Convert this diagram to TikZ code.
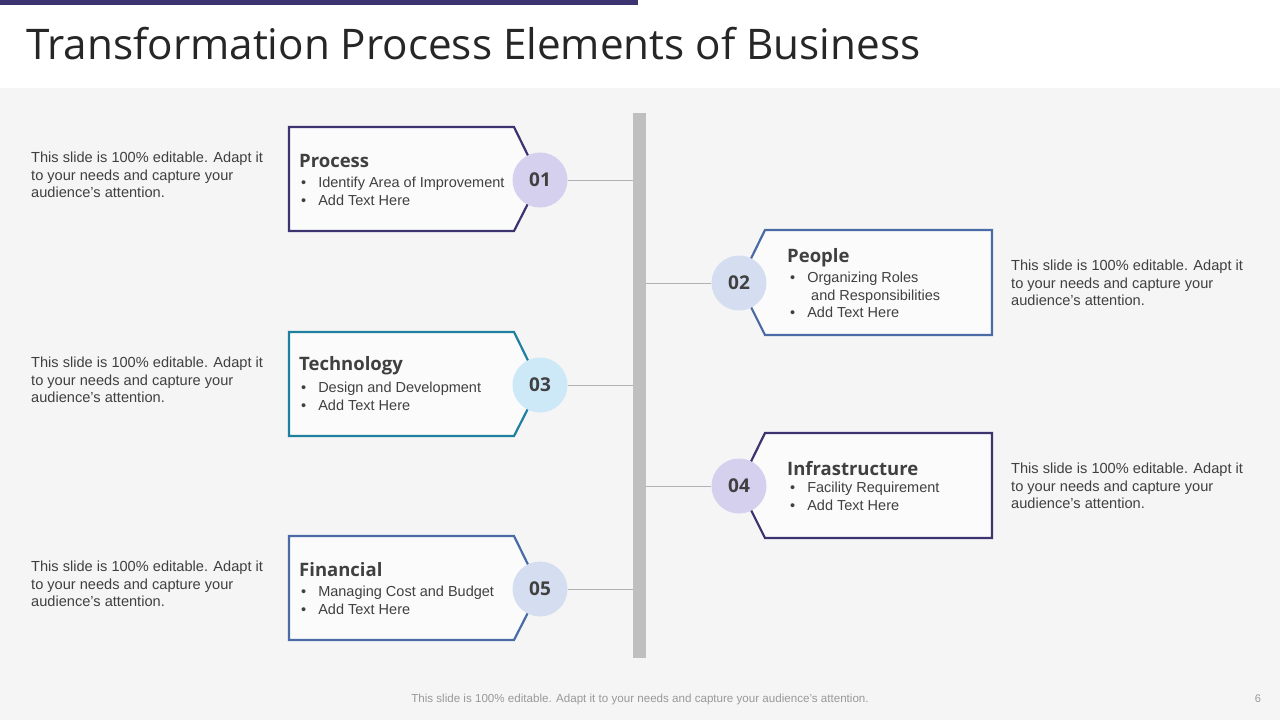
\documentclass[tikz,border=0pt]{standalone}
\usepackage{fontspec}
\setmainfont{Liberation Sans}
\newfontfamily\headfont{Open Sans}
\usetikzlibrary{positioning}
\definecolor{darkpurple}{HTML}{3B3470}
\definecolor{tealblue}{HTML}{1E7FA0}
\definecolor{steelblue}{HTML}{4A6BA5}
\definecolor{lilac}{HTML}{D4D0EE}
\definecolor{skyblue}{HTML}{CDE9F7}
\definecolor{paleblue}{HTML}{D5DEF0}
\definecolor{bodygray}{HTML}{404040}
\newcommand{\bul}{\textbullet\hspace{12pt}}
\newcommand{\cont}{\hspace{21pt}}
\tikzset{
  tagbox/.style={line width=2.2pt, fill=white, fill opacity=0.6, draw opacity=1},
  badge/.style={circle, minimum size=55pt, inner sep=0pt, font=\headfont\fontsize{19}{19}\selectfont\bfseries, text=bodygray},
  heading/.style={anchor=west, font=\headfont\fontsize{18.5}{18.5}\selectfont\bfseries, text=bodygray, inner sep=0pt},
  bullets/.style={anchor=north west, align=left, font=\fontsize{14.5}{17.5}\selectfont, text=bodygray, inner sep=0pt},
  note/.style={anchor=north west, align=left, font=\fontsize{14.6}{17.5}\selectfont, text=bodygray, inner sep=0pt},
  link/.style={draw=gray!60, line width=0.8pt}
}
\begin{document}
\begin{tikzpicture}[x=1pt,y=-1pt]
\useasboundingbox (0,0) rectangle (1280,720);
\fill[white] (0,0) rectangle (1280,88);
\fill[gray!8] (0,88) rectangle (1280,720);
\fill[darkpurple] (0,0) rectangle (638,5);
\node[anchor=west, inner sep=0pt, font=\headfont\fontsize{42.2}{42.2}\selectfont, text=black!85] (title) at (26,44) {Transformation Process Elements of Business};

% central bar
\fill[gray!50] (633,113) rectangle (646,658);
\coordinate (barL) at (633,0);
\coordinate (barR) at (646,0);

% left side tags
\foreach \y/\col/\fillc/\num/\head/\items in {
  180/darkpurple/lilac/01/Process/{\bul Identify Area of Improvement\\\bul Add Text Here},
  385/tealblue/skyblue/03/Technology/{\bul Design and Development\\\bul Add Text Here},
  589/steelblue/paleblue/05/Financial/{\bul Managing Cost and Budget\\\bul Add Text Here}}
{
  \draw[tagbox, draw=\col] (289,\y-53) -- (514,\y-53) -- (540,\y) -- (514,\y+51) -- (289,\y+51) -- cycle;
  \node[badge, fill=\fillc] (n\num) at (540,\y) {\num};
  \path[link] (n\num.east) -- (barL |- n\num.east);
  \node[heading] (h\num) at (299,\y-19) {\head};
  \node[bullets] (b\num) at (301,\y-3) {\items};
  \node[note] (t\num) at (31,\y-28) {This slide is 100\% editable. Adapt it\\to your needs and capture your\\audience’s attention.};
}

% right side tags
\foreach \y/\col/\fillc/\num/\hy/\by/\head/\items in {
  283/steelblue/paleblue/02/-25/-11/People/{\bul Organizing Roles\\\cont and Responsibilities\\\bul Add Text Here},
  486/darkpurple/lilac/04/-17/-4/Infrastructure/{\bul Facility Requirement\\\bul Add Text Here}}
{
  \draw[tagbox, draw=\col] (992,\y-53) -- (765,\y-53) -- (739,\y) -- (765,\y+52) -- (992,\y+52) -- cycle;
  \node[badge, fill=\fillc] (n\num) at (739,\y) {\num};
  \path[link] (n\num.west) -- (barR |- n\num.west);
  \node[heading] (h\num) at (787,\y+\hy) {\head};
  \node[bullets] (b\num) at (790,\y+\by) {\items};
  \node[note] (t\num) at (1011,\y-23) {This slide is 100\% editable. Adapt it\\to your needs and capture your\\audience’s attention.};
}

\node[font=\fontsize{11.6}{11.6}\selectfont, text=gray!80, inner sep=0pt] (foot) at (640,699) {This slide is 100\% editable. Adapt it to your needs and capture your audience’s attention.};
\node[font=\fontsize{11}{11}\selectfont, text=gray!80, inner sep=0pt] (page) at (1258,699) {6};
\end{tikzpicture}
\end{document}
